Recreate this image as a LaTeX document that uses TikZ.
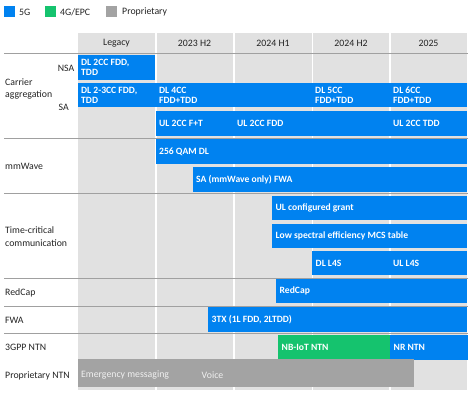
\documentclass[tikz,border=0pt]{standalone}
\usepackage{fontspec}
\setmainfont{Carlito}
\definecolor{egblue}{RGB}{0,130,240}
\definecolor{eggreen}{RGB}{21,195,110}
\definecolor{eggraybar}{RGB}{163,163,163}
\definecolor{egcol}{RGB}{225,225,225}
\definecolor{egline}{RGB}{160,160,160}
\definecolor{egtext}{RGB}{35,35,35}
\newcommand\tlbar[6]{%
  \node[barbox, fill=#6, minimum width={(#4-#2)*1pt}, minimum height={(#5-#3)*1pt}] (#1) at (#2,#3) {};}
\begin{document}
\begin{tikzpicture}[x=1pt,y=-1pt,
  barbox/.style={draw=none, inner sep=0pt, outer sep=0pt, anchor=north west},
  colbox/.style={fill=egcol, draw=none},
  sepline/.style={draw=egline, line width=0.8pt},
  bartext/.style={text=white, anchor=west, inner sep=0pt, align=left, font=\fontsize{9.6}{10.2}\selectfont\bfseries},
  graytext/.style={text=white!94!black, anchor=west, inner sep=0pt, font=\fontsize{9.8}{10}\selectfont},
  lbl/.style={text=egtext, inner sep=0pt, align=left, font=\fontsize{9.8}{12.5}\selectfont},
  hdr/.style={text=egtext, inner sep=0pt, font=\fontsize{9.8}{10}\selectfont},
  legsq/.style={draw=none, inner sep=0pt, minimum size=11pt, anchor=north west}]
\useasboundingbox (0,0) rectangle (474,396);
% legend
\node[legsq, fill=egblue] (l1) at (4,6) {};
\node[lbl, anchor=west] (l1t) at (19,12) {5G};
\node[legsq, fill=eggreen] (l2) at (45,6) {};
\node[lbl, anchor=west] (l2t) at (60,12) {4G/EPC};
\node[legsq, fill=eggraybar] (l3) at (106,6) {};
\node[lbl, anchor=west] (l3t) at (122,12) {Proprietary};
% columns
\fill[colbox] (78,33) rectangle (155,390);
\fill[colbox] (156.5,33) rectangle (233,390);
\fill[colbox] (234.5,33) rectangle (311.5,390);
\fill[colbox] (313,33) rectangle (389,390);
\fill[colbox] (390.5,33) rectangle (467,390);
\node[hdr] (h1) at (116.5,43) {Legacy};
\node[hdr] (h2) at (194.5,43) {2023 H2};
\node[hdr] (h3) at (273,43) {2024 H1};
\node[hdr] (h4) at (351,43) {2024 H2};
\node[hdr] (h5) at (428.5,43) {2025};
% separators
\foreach \yy in {53,138,193,278,306,333} \draw[sepline] (4,\yy) -- (468,\yy);
% left labels
\node[lbl, anchor=east] (nsa) at (74.5,68) {NSA};
\node[lbl, anchor=west] (ca) at (5,89) {Carrier\\aggregation};
\node[lbl, anchor=east] (sa) at (69,107.5) {SA};
\node[lbl, anchor=west] (mmw) at (5,166.5) {mmWave};
\node[lbl, anchor=west] (tcc) at (5,236.5) {Time-critical\\communication};
\node[lbl, anchor=west] (rc) at (5,292.5) {RedCap};
\node[lbl, anchor=west] (fwa) at (5,320) {FWA};
\node[lbl, anchor=west] (ntn) at (5,347.5) {3GPP NTN};
\node[lbl, anchor=west] (pntn) at (5,375.5) {Proprietary NTN};
% bars
\tlbar{b1}{78}{55}{155}{80}{egblue}
\node[bartext] at (81,67.5) {DL 2CC FDD,\\TDD};
\tlbar{b2}{78}{83}{467}{107}{egblue}
\node[bartext] at (81,95) {DL 2-3CC FDD,\\TDD};
\node[bartext] at (159,95) {DL 4CC\\FDD+TDD};
\node[bartext] at (315,95) {DL 5CC\\FDD+TDD};
\node[bartext] at (393,95) {DL 6CC\\FDD+TDD};
\tlbar{b3}{156}{111}{467}{136}{egblue}
\node[bartext] at (159,123.5) {UL 2CC F+T};
\node[bartext] at (237,123.5) {UL 2CC FDD};
\node[bartext] at (393,123.5) {UL 2CC TDD};
\tlbar{b4}{156}{139}{467}{164}{egblue}
\node[bartext] at (159,151.5) {256 QAM DL};
\tlbar{b5}{193}{167}{467}{192}{egblue}
\node[bartext] at (196,179.5) {SA (mmWave only) FWA};
\tlbar{b6}{272}{196}{467}{220}{egblue}
\node[bartext] at (275.5,208) {UL configured grant};
\tlbar{b7}{272}{224}{467}{248}{egblue}
\node[bartext] at (275.5,236) {Low spectral efficiency MCS table};
\tlbar{b8}{312}{251}{467}{275}{egblue}
\node[bartext] at (315.5,263) {DL L4S};
\node[bartext] at (393,263) {UL L4S};
\tlbar{b9}{276}{279}{467}{303}{egblue}
\node[bartext] at (279.5,291) {RedCap};
\tlbar{b10}{208}{307}{467}{332}{egblue}
\node[bartext] at (211.5,319.5) {3TX (1L FDD, 2LTDD)};
\tlbar{b11}{278}{335}{390}{360}{eggreen}
\node[bartext] at (281.5,347.5) {NB-IoT NTN};
\tlbar{b12}{390}{335}{467.5}{360}{egblue}
\node[bartext] at (393.5,347.5) {NR NTN};
\tlbar{b13}{78}{359}{414}{387}{eggraybar}
\node[graytext] at (81,375) {Emergency messaging};
\node[graytext] at (201.5,375) {Voice};
\end{tikzpicture}
\end{document}
